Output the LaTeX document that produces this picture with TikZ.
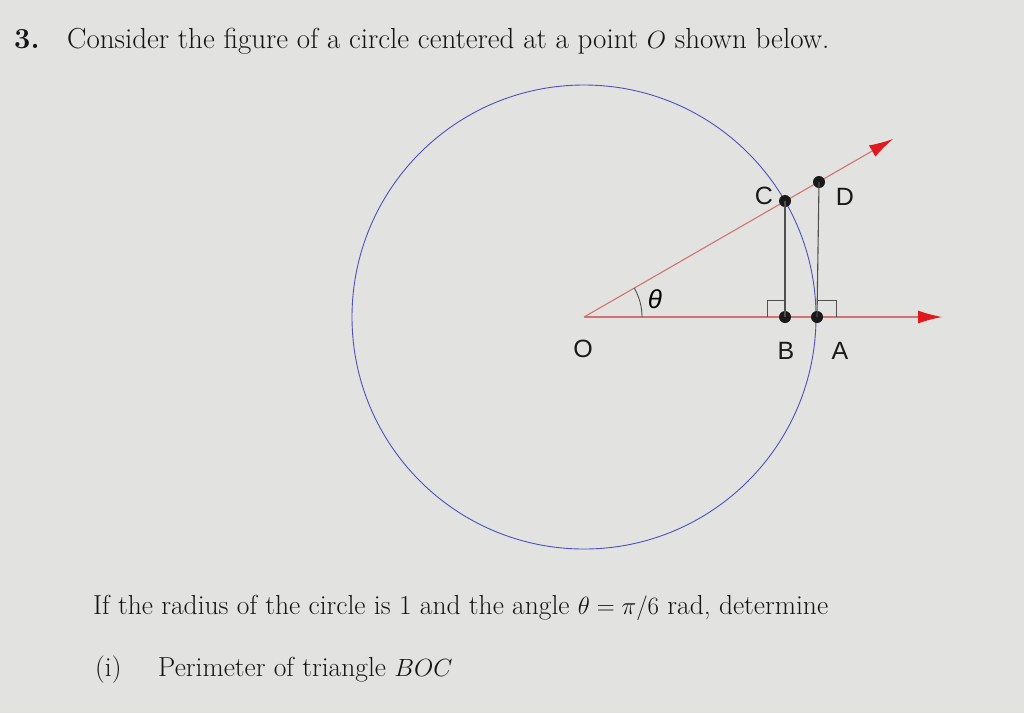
\documentclass[tikz,border=0pt]{standalone}
\usepackage{fontspec}
\newfontfamily\labelfont{Liberation Sans}
\usetikzlibrary{arrows.meta}
\definecolor{bgc}{RGB}{226,226,224}
\definecolor{circ}{RGB}{80,80,190}
\definecolor{rayc}{RGB}{210,115,115}
\definecolor{tipc}{RGB}{225,25,30}
\definecolor{vline}{RGB}{80,80,80}
\begin{document}
\begin{tikzpicture}[x=1pt,y=-1pt,
  dot/.style={circle,fill=black!90,inner sep=0pt,minimum size=12pt},
  lbl/.style={font=\labelfont\fontsize{25}{28}\selectfont,inner sep=0pt,text=black!90},
  ray/.style={rayc,line width=1.1pt,-{Latex[length=24pt,width=13pt,color=tipc]}},
  perp/.style={vline,line width=1.1pt},
  body/.style={anchor=base west,inner sep=0pt,text=black!92},
  big/.style={body,font=\fontsize{29}{33}\selectfont},
  small/.style={body,font=\fontsize{27.5}{32}\selectfont}]
\fill[bgc] (0,0) rectangle (1024,713);
\useasboundingbox (0,0) rectangle (1024,713);
% text
\node[big] (num) at (14,48) {\textbf{3.}};
\node[big] (t1) at (67,48) {Consider the figure of a circle centered at a point $O$ shown below.};
\node[small] (t2) at (93,614) {If the radius of the circle is 1 and the angle $\theta=\pi/6$ rad, determine};
\node[small] (t3) at (95,676) {(i)};
\node[small] (t4) at (158,676) {Perimeter of triangle $BOC$};
% geometry
\coordinate (O) at (584,317);
\coordinate (Rend) at (893,139);
\coordinate (Hend) at (942,317);
\draw[circ,line width=0.9pt] (O) circle[radius=232pt];
\draw[ray] (O) -- (Hend);
\draw[ray] (O) -- (Rend);
\node[dot] (C) at (785,201) {};
\node[dot] (B) at (785,317) {};
\node[dot] (A) at (817,317) {};
\node[dot] (D) at (819,182) {};
\draw[perp] (C.center) -- (B.center);
\draw[perp] (D.center) -- (A.center);
% right-angle marks
\draw[perp,line width=0.9pt] (767,317) -- (767,300) -- (785,300);
\draw[perp,line width=0.9pt] (818,300) -- (836,300) -- (836,317);
% angle arc
\draw[vline,line width=0.9pt] (642,317) arc[start angle=0,end angle=30,radius=58pt];
\node[font=\labelfont\itshape\fontsize{26}{28}\selectfont,inner sep=0pt] (th) at (655,299) {θ};
% labels
\node[lbl] (lO) at (583,349) {O};
\node[lbl] (lB) at (786,351) {B};
\node[lbl] (lA) at (840,351) {A};
\node[lbl] (lC) at (764,196) {C};
\node[lbl] (lD) at (845,197) {D};
\end{tikzpicture}
\end{document}
